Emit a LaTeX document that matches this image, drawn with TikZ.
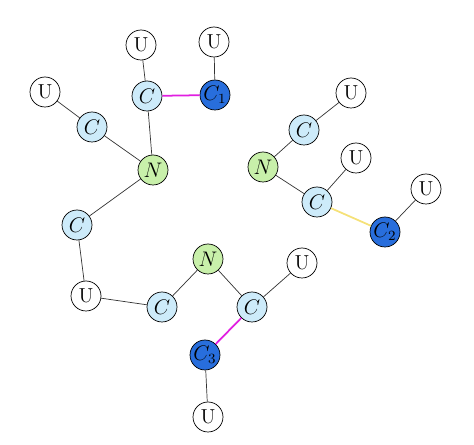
\documentclass[tikz,border=0pt]{standalone}
\usepackage{tikz}

\definecolor{carbon}{RGB}{205,235,250}
\definecolor{nitro}{RGB}{200,240,170}
\definecolor{target}{RGB}{40,110,220}
\definecolor{pinkbond}{RGB}{225,30,225}
\definecolor{yellowbond}{RGB}{245,225,120}

\begin{document}
\begin{tikzpicture}[
    x=0.02cm, y=-0.02cm,
    atom/.style={circle, draw, thin, minimum size=0.6cm, inner sep=0pt, font=\fontsize{11.5}{13}\selectfont},
    unk/.style={atom, fill=white},
    cnode/.style={atom, fill=carbon},
    nnode/.style={atom, fill=nitro},
    tnode/.style={atom, fill=target},
    bond/.style={draw=black!80, thin},
    special/.style={line width=1pt}
]
\useasboundingbox (0,0) rectangle (474,445);

% Upper left fragment
\node[unk] (u1) at (141,45) {U};
\node[unk] (u2) at (214,42) {U};
\node[cnode] (c1) at (147,96) {$C$};
\node[tnode] (t1) at (215,95) {$C_1$};
\node[unk] (u3) at (45,92) {U};
\node[cnode] (c2) at (92,127) {$C$};
\node[nnode] (n1) at (153,170) {$N$};

% Right fragment
\node[unk] (u4) at (351,93) {U};
\node[cnode] (c3) at (304,130) {$C$};
\node[nnode] (n2) at (263,167) {$N$};
\node[unk] (u5) at (356,158) {U};
\node[cnode] (c4) at (317,202) {$C$};
\node[unk] (u6) at (426,189) {U};
\node[tnode] (t2) at (385,232) {$C_2$};

% Lower fragment
\node[cnode] (c5) at (77,225) {$C$};
\node[unk] (u7) at (86,296) {U};
\node[cnode] (c6) at (162,307) {$C$};
\node[nnode] (n3) at (208,259) {$N$};
\node[unk] (u8) at (302,263) {U};
\node[cnode] (c7) at (252,307) {$C$};
\node[tnode] (t3) at (205,355) {$C_3$};
\node[unk] (u9) at (208,417) {U};

% Bonds
\draw[bond] (u1) -- (c1);
\draw[bond] (u2) -- (t1);
\draw[special, pinkbond] (c1) -- (t1);
\draw[bond] (c1) -- (n1);
\draw[bond] (u3) -- (c2);
\draw[bond] (c2) -- (n1);
\draw[bond] (n1) -- (c5);
\draw[bond] (c5) -- (u7);
\draw[bond] (u7) -- (c6);
\draw[bond] (c6) -- (n3);
\draw[bond] (n3) -- (c7);
\draw[bond] (c7) -- (u8);
\draw[special, pinkbond] (c7) -- (t3);
\draw[bond] (t3) -- (u9);
\draw[bond] (u4) -- (c3);
\draw[bond] (c3) -- (n2);
\draw[bond] (n2) -- (c4);
\draw[bond] (c4) -- (u5);
\draw[special, yellowbond] (c4) -- (t2);
\draw[bond] (t2) -- (u6);

\end{tikzpicture}
\end{document}
